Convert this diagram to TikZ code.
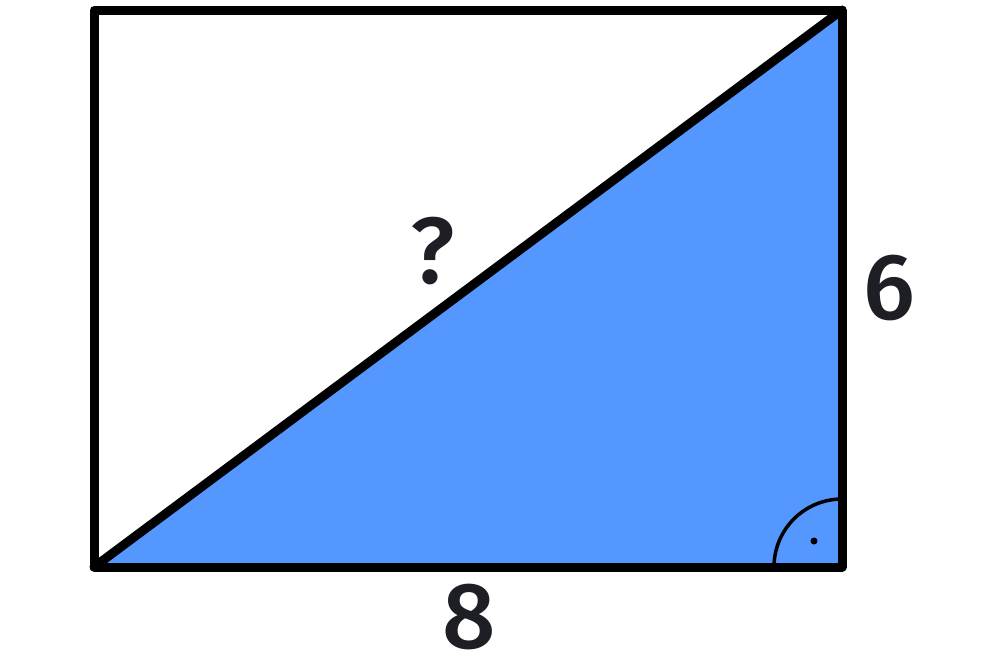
\documentclass[tikz,border=0pt]{standalone}
\usepackage{fontspec}
\setmainfont{Fira Sans}
\newfontfamily\lblfont{Fira Sans Medium}
\definecolor{fillblue}{HTML}{5497FF}
\definecolor{ink}{HTML}{1E1F24}
\tikzset{
  edge/.style={line width=9pt, line join=round, line cap=round},
  lbl/.style={text=ink, font=\lblfont\fontsize{94}{94}\selectfont, inner sep=0pt},
}
\begin{document}
\begin{tikzpicture}[x=1pt,y=-1pt]
\useasboundingbox (0,0) rectangle (1000,667);
\coordinate (BL) at (94,567);
\coordinate (TL) at (94,10);
\coordinate (TR) at (842,10);
\coordinate (BR) at (842,567);
\fill[fillblue] (BL) -- (TR) -- (BR) -- cycle;
\draw[line width=3.5pt] ([xshift=-68pt]BR) arc[start angle=180, end angle=90, radius=68pt, y=-1pt];
\fill (814,541) coordinate (dot) circle (3.5pt);
\draw[edge] (BL) -- (TL) -- (TR) -- (BR) -- cycle;
\draw[edge] (BL) -- (TR);
\node[lbl] (q) at (433,251) {?};
\node[lbl] (six) at (889,288) {6};
\node[lbl] (eight) at (469,617) {8};
\end{tikzpicture}
\end{document}
